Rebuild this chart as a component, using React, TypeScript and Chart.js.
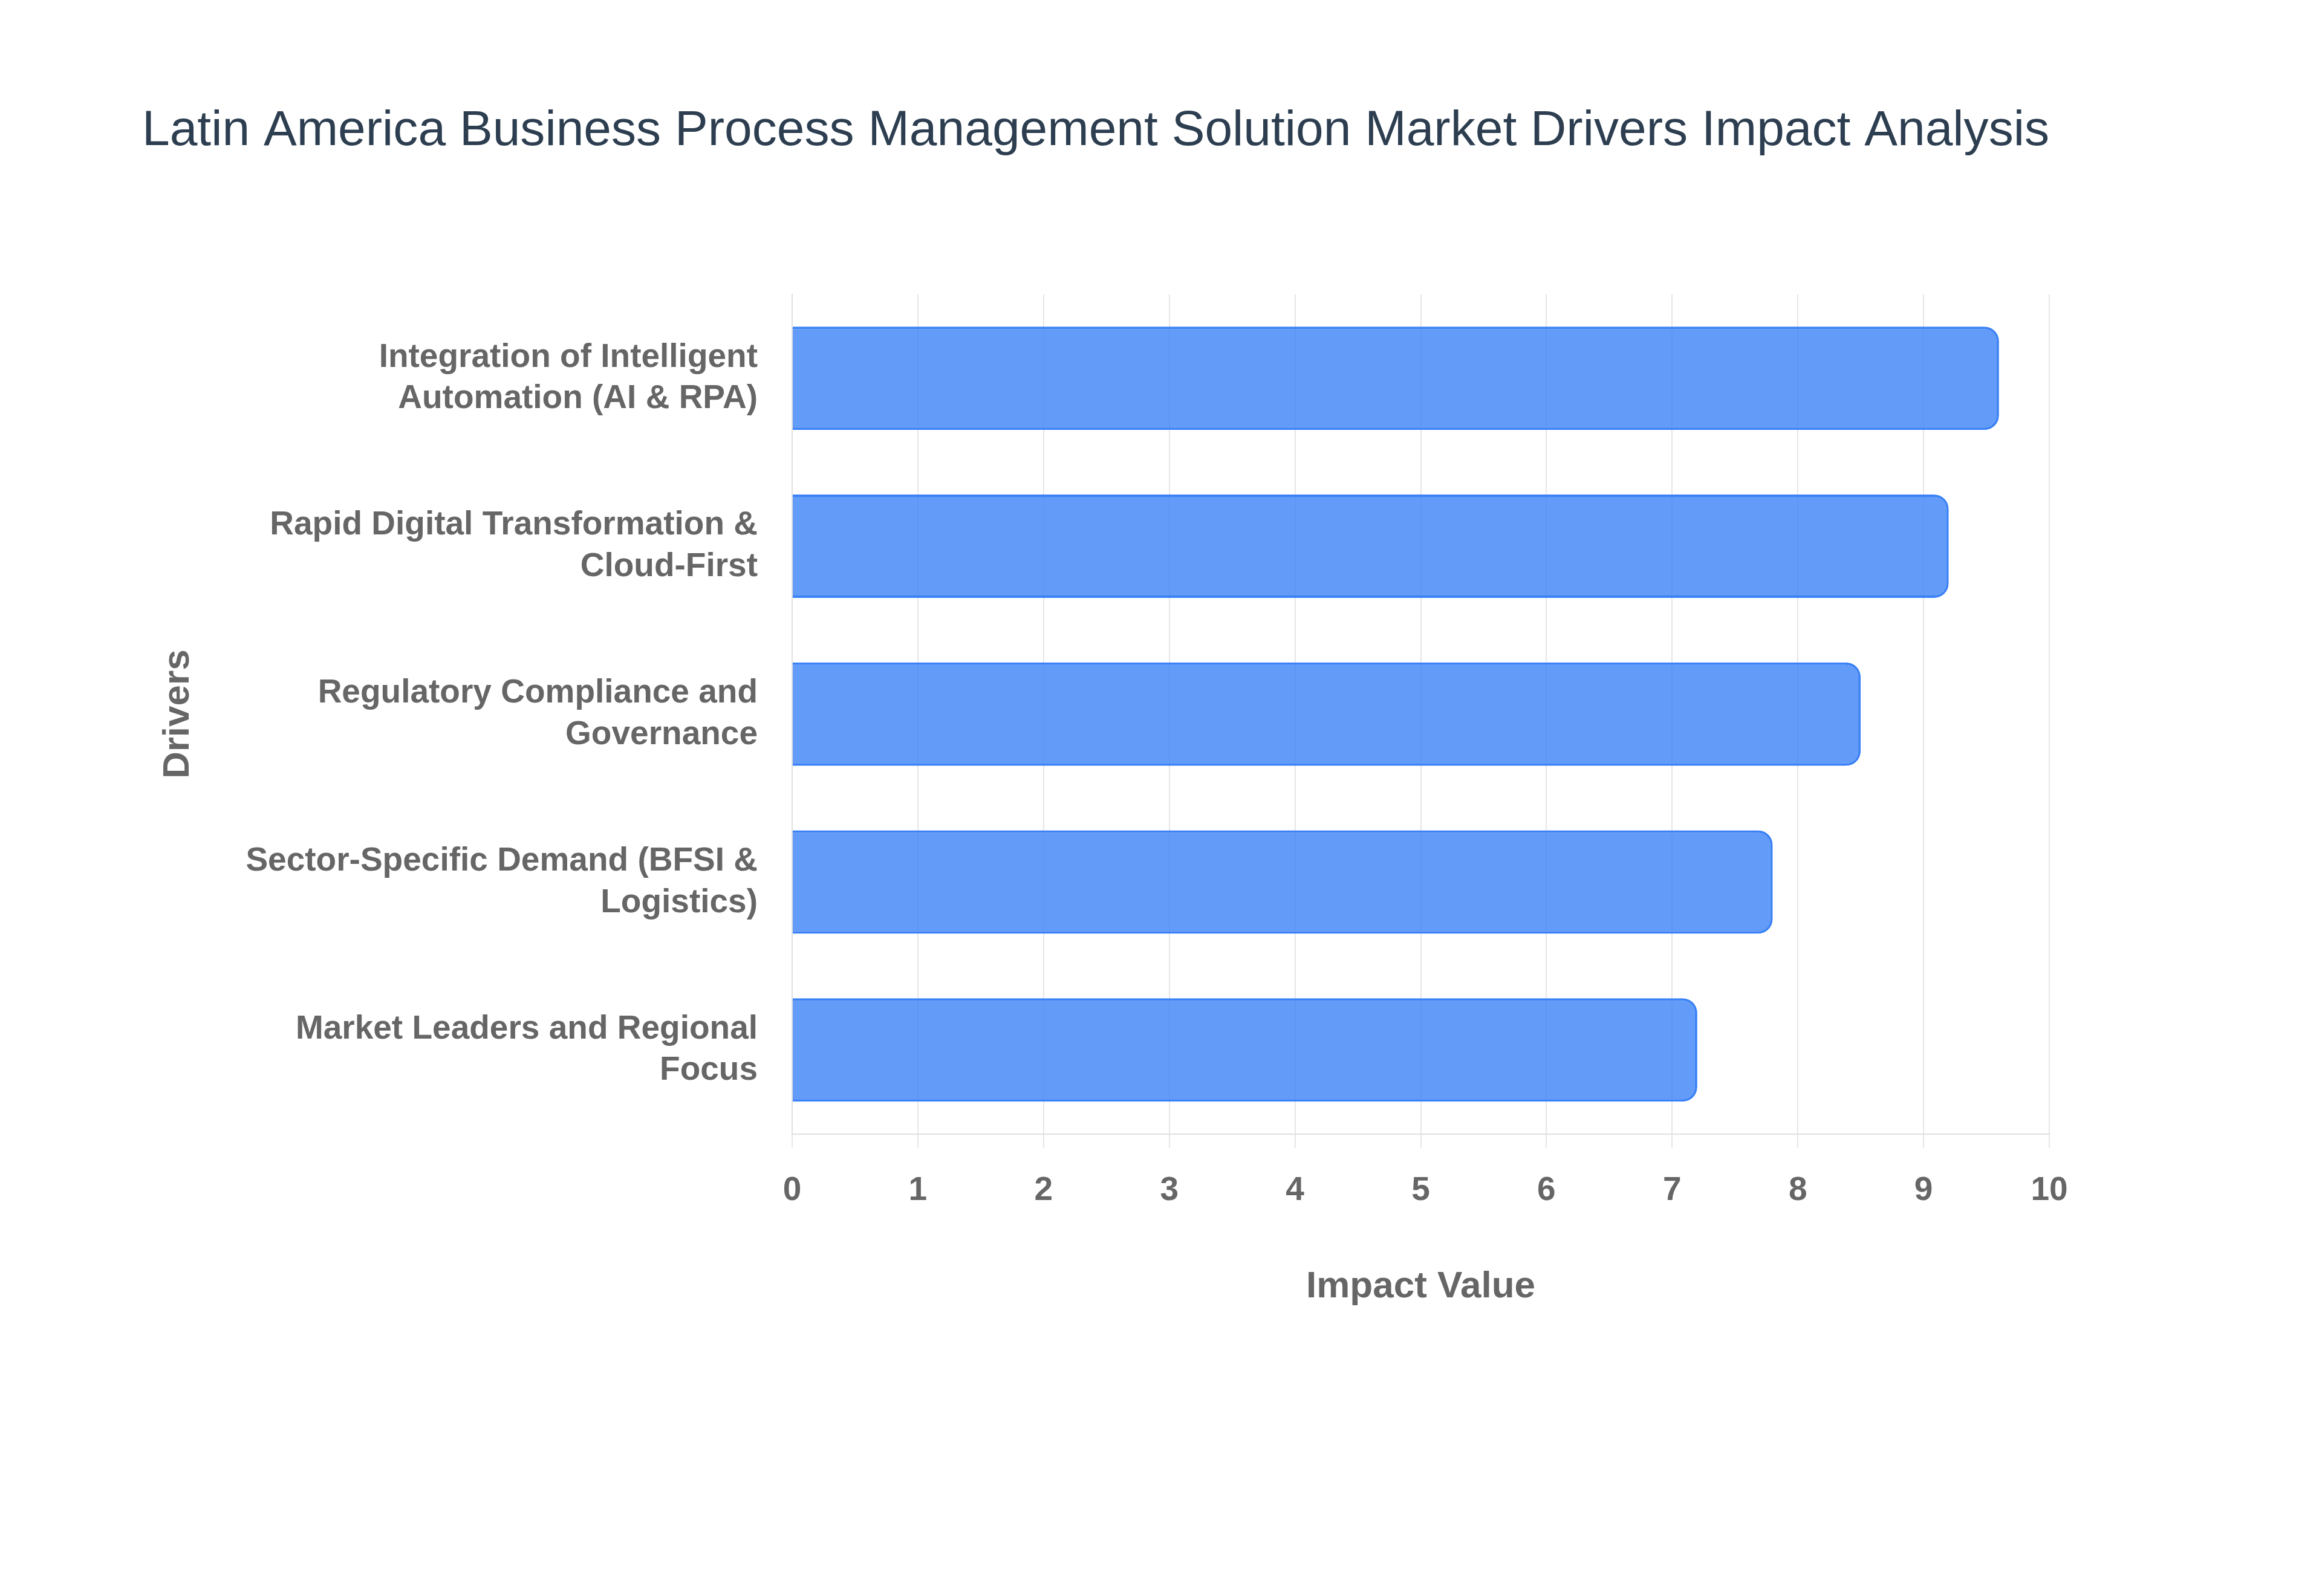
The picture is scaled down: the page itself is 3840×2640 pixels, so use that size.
import { useEffect, useRef } from "react";
import { Chart, registerables, ChartConfiguration } from "chart.js";

Chart.register(...registerables);

const chartTitle = "Latin America Business Process Management Solution Market Drivers Impact Analysis";

// category labels, already split into the two lines shown on the axis
const drivers: string[][] = [
  ["Integration of Intelligent", "Automation (AI & RPA)"],
  ["Rapid Digital Transformation &", "Cloud-First"],
  ["Regulatory Compliance and", "Governance"],
  ["Sector-Specific Demand (BFSI &", "Logistics)"],
  ["Market Leaders and Regional", "Focus"],
];

const impactValues: number[] = [9.6, 9.2, 8.5, 7.8, 7.2];

const xTicks: number[] = [0, 1, 2, 3, 4, 5, 6, 7, 8, 9, 10];

const FONT = "'Liberation Sans', Arial, Helvetica, sans-serif";
const GRAY = "#666666";

export default function App() {
  const canvasRef = useRef<HTMLCanvasElement | null>(null);

  useEffect(() => {
    if (!canvasRef.current) return;
    const ctx = canvasRef.current.getContext("2d");
    if (!ctx) return;

    const config: ChartConfiguration<"bar"> = {
      type: "bar",
      data: {
        labels: drivers,
        datasets: [
          {
            label: "Impact Value",
            data: impactValues,
            backgroundColor: "rgba(59, 130, 246, 0.8)",
            borderColor: "#3b82f6",
            borderWidth: 4,
            borderRadius: 24,
            categoryPercentage: 0.8,
            barPercentage: 0.77,
          },
        ],
      },
      options: {
        indexAxis: "y",
        responsive: true,
        maintainAspectRatio: false,
        devicePixelRatio: 1,
        animation: false,
        layout: {
          padding: { left: 235, right: 451, top: 0, bottom: 464 },
        },
        plugins: {
          legend: { display: false },
          tooltip: { enabled: false },
          title: {
            display: true,
            text: chartTitle,
            align: "start",
            color: "#2c3e50",
            font: { family: FONT, size: 82.4, weight: "normal" },
            padding: { top: 168, bottom: 220 },
          },
        },
        scales: {
          x: {
            min: 0,
            max: 10,
            afterBuildTicks: (scale) => {
              scale.ticks = xTicks.map((v) => ({ value: v }));
            },
            grid: { color: "#e6e6e6", lineWidth: 2, tickLength: 23 },
            border: { color: "#e0e0e0", width: 2 },
            ticks: {
              color: GRAY,
              padding: 38,
              font: { family: FONT, size: 55, weight: "bold" },
            },
            title: {
              display: true,
              text: "Impact Value",
              color: GRAY,
              font: { family: FONT, size: 62, weight: "bold" },
              padding: { top: 51, bottom: 10 },
            },
          },
          y: {
            grid: { display: false },
            border: { color: "#e0e0e0", width: 2 },
            ticks: {
              color: GRAY,
              padding: 49,
              font: { family: FONT, size: 55, weight: "bold", lineHeight: 1.25 },
            },
            title: {
              display: true,
              text: "Drivers",
              color: GRAY,
              font: { family: FONT, size: 62, weight: "bold" },
              padding: { top: 23, bottom: 20 },
            },
            afterFit: (scale) => {
              scale.width = 1075;
            },
          },
        },
      },
    };

    const chart = new Chart(ctx, config);
    return () => {
      chart.destroy();
    };
  }, []);

  return (
    <div style={{ position: "fixed", left: 0, top: 0, width: 3840, height: 2640, background: "#ffffff" }}>
      <canvas ref={canvasRef}></canvas>
    </div>
  );
}
